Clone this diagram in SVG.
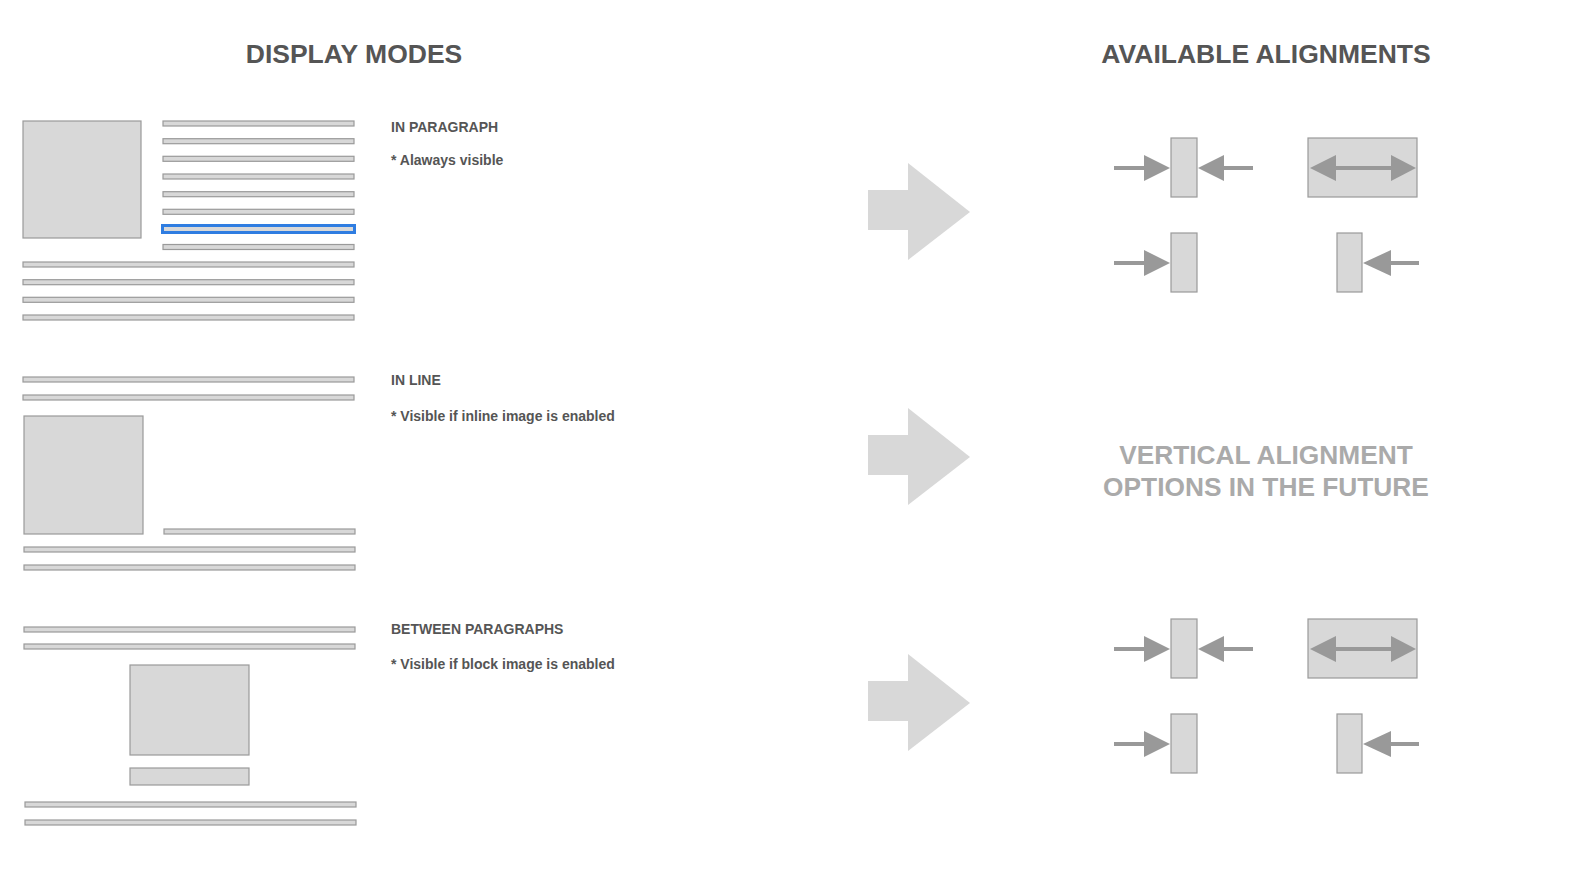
<svg xmlns="http://www.w3.org/2000/svg" width="1582" height="880" viewBox="0 0 1582 880">
<style>
.bx{fill:#d8d8d8;stroke:#9a9a9a;stroke-width:1.2}
.ln{fill:#d8d8d8;stroke:#9a9a9a;stroke-width:1.2}
.t{font-family:"Liberation Sans",Arial,sans-serif;font-weight:bold;fill:#555}
.h{font-size:26.5px;text-anchor:middle}
.s{font-size:14px}
.big{fill:#d8d8d8}
.ar{fill:#999}
.as{stroke:#999;stroke-width:4}
</style>
<defs>
<g id="bigarrow"><rect class="big" x="868" y="-22" width="41" height="40"/><polygon class="big" points="908,-49 970,0 908,48"/></g>
<g id="align">
<line class="as" x1="1114" y1="30" x2="1146" y2="30"/><polygon class="ar" points="1144,17 1170,30 1144,43"/>
<rect class="bx" x="1171" y="0" width="26" height="59"/>
<line class="as" x1="1222" y1="30" x2="1253" y2="30"/><polygon class="ar" points="1224,17 1198,30 1224,43"/>
<rect class="bx" x="1308" y="0" width="109" height="59"/>
<line class="as" x1="1334" y1="30" x2="1393" y2="30"/><polygon class="ar" points="1336,17 1310,30 1336,43"/><polygon class="ar" points="1391,17 1416,30 1391,43"/>
<line class="as" x1="1114" y1="125" x2="1146" y2="125"/><polygon class="ar" points="1144,112 1170,125 1144,138"/>
<rect class="bx" x="1171" y="95" width="26" height="59"/>
<rect class="bx" x="1337" y="95" width="25" height="59"/>
<line class="as" x1="1389" y1="125" x2="1419" y2="125"/><polygon class="ar" points="1391,112 1363,125 1391,138"/>
</g>
</defs>
<text class="t h" x="354" y="63">DISPLAY MODES</text>
<text class="t h" x="1266" y="63">AVAILABLE ALIGNMENTS</text>
<g id="mode-paragraph">
<rect class="bx" x="23" y="121" width="118" height="117"/>
<rect class="ln" x="163" y="121" width="191" height="5"/>
<rect class="ln" x="163" y="138.7" width="191" height="5"/>
<rect class="ln" x="163" y="156.3" width="191" height="5"/>
<rect class="ln" x="163" y="174" width="191" height="5"/>
<rect class="ln" x="163" y="191.7" width="191" height="5"/>
<rect class="ln" x="163" y="209.3" width="191" height="5"/>
<rect x="162.5" y="225.5" width="192" height="7" fill="#d8d8d8" stroke="#2f7de1" stroke-width="3"/>
<rect class="ln" x="163" y="244.5" width="191" height="5"/>
<rect class="ln" x="23" y="262" width="331" height="5"/>
<rect class="ln" x="23" y="279.7" width="331" height="5"/>
<rect class="ln" x="23" y="297.3" width="331" height="5"/>
<rect class="ln" x="23" y="315" width="331" height="5"/>
<text class="t s" x="391" y="132">IN PARAGRAPH</text>
<text class="t s" x="391" y="165">* Alaways visible</text>
</g>
<g id="mode-inline">
<rect class="ln" x="23" y="377" width="331" height="5"/>
<rect class="ln" x="23" y="395" width="331" height="5"/>
<rect class="bx" x="24" y="416" width="119" height="118"/>
<rect class="ln" x="164" y="529" width="191" height="5"/>
<rect class="ln" x="24" y="547" width="331" height="5"/>
<rect class="ln" x="24" y="565" width="331" height="5"/>
<text class="t s" x="391" y="385">IN LINE</text>
<text class="t s" x="391" y="421">* Visible if inline image is enabled</text>
</g>
<g id="mode-between">
<rect class="ln" x="24" y="627" width="331" height="5"/>
<rect class="ln" x="24" y="644" width="331" height="5"/>
<rect class="bx" x="130" y="665" width="119" height="90"/>
<rect class="bx" x="130" y="768" width="119" height="17"/>
<rect class="ln" x="25" y="802" width="331" height="5"/>
<rect class="ln" x="25" y="820" width="331" height="5"/>
<text class="t s" x="391" y="634">BETWEEN PARAGRAPHS</text>
<text class="t s" x="391" y="669">* Visible if block image is enabled</text>
</g>
<g id="connectors">
<use href="#bigarrow" transform="translate(0,212)"/>
<use href="#bigarrow" transform="translate(0,457)"/>
<use href="#bigarrow" transform="translate(0,703)"/>
</g>
<g id="align-top"><use href="#align" transform="translate(0,138)"/></g>
<g id="align-future">
<text class="t h" x="1266" y="464" style="fill:#aaa;font-size:26.3px">VERTICAL ALIGNMENT</text>
<text class="t h" x="1266" y="496" style="fill:#aaa;font-size:26.3px">OPTIONS IN THE FUTURE</text>
</g>
<g id="align-bottom"><use href="#align" transform="translate(0,619)"/></g>
</svg>
